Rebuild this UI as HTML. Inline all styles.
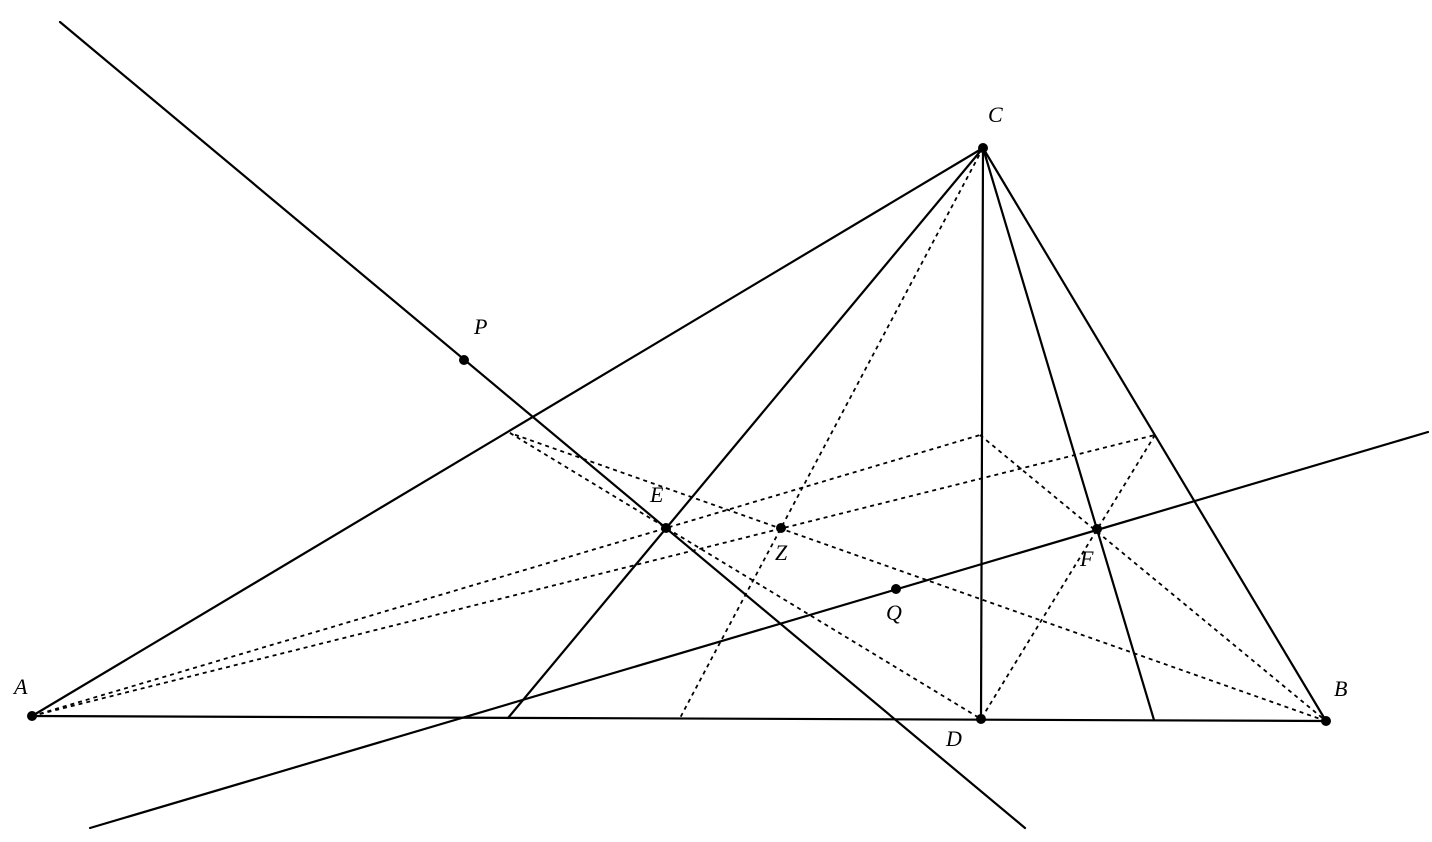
<!DOCTYPE html>
<html><head><meta charset="utf-8"><style>
html,body{margin:0;padding:0;background:#fff;}
svg{display:block;}
text{font-family:"Liberation Serif",serif;font-style:italic;font-size:22px;fill:#000;}
</style></head><body>
<svg width="1432" height="842" viewBox="0 0 1432 842" xmlns="http://www.w3.org/2000/svg">
<g stroke="#000" stroke-width="2.2" fill="none" stroke-linecap="round">
<line x1="60" y1="22" x2="1025" y2="828"/>
<line x1="90" y1="828" x2="1428" y2="432"/>
<line x1="32" y1="716" x2="1326" y2="721"/>
<line x1="32" y1="716" x2="983" y2="148"/>
<line x1="1326" y1="721" x2="983" y2="148"/>
<line x1="983" y1="148" x2="508" y2="718"/>
<line x1="983" y1="148" x2="981" y2="719"/>
<line x1="983" y1="148" x2="1154" y2="720"/>
</g>
<g stroke="#000" stroke-width="1.8" fill="none" stroke-dasharray="4,4">
<line x1="32" y1="716" x2="980" y2="435"/>
<line x1="32" y1="716" x2="1155" y2="435"/>
<line x1="1326" y1="721" x2="510" y2="433"/>
<line x1="510" y1="433" x2="981" y2="719"/>
<line x1="980" y1="435" x2="1326" y2="721"/>
<line x1="1155" y1="435" x2="981" y2="719"/>
<line x1="983" y1="148" x2="680" y2="718"/>
</g>
<g fill="#000">
<circle cx="32" cy="716" r="5"/><circle cx="1326" cy="721" r="5"/>
<circle cx="983" cy="148" r="5"/><circle cx="981" cy="719" r="5"/>
<circle cx="666" cy="528" r="5"/><circle cx="1097" cy="529" r="5"/>
<circle cx="781" cy="528" r="5"/><circle cx="896" cy="589" r="5"/>
<circle cx="464" cy="360" r="5"/>
</g>
<text x="988" y="122">C</text>
<text x="474" y="334">P</text>
<text x="650" y="502">E</text>
<text x="775" y="560">Z</text>
<text x="886" y="620">Q</text>
<text x="1080" y="566">F</text>
<text x="14" y="694">A</text>
<text x="1334" y="696">B</text>
<text x="946" y="746">D</text>
</svg>
</body></html>
